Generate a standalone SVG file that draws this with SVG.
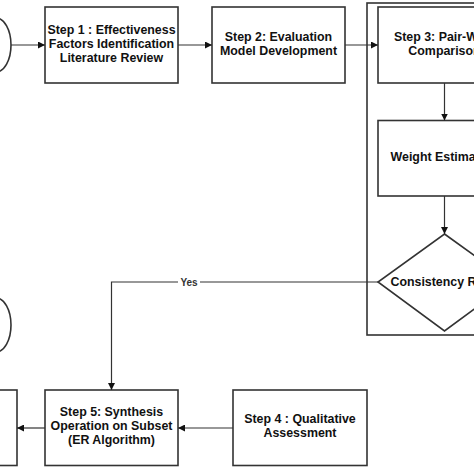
<svg xmlns="http://www.w3.org/2000/svg" width="474" height="474" viewBox="0 0 474 474">
<defs>
<style>
.box{fill:#fff;stroke:#333;stroke-width:1.6}
.cont{fill:none;stroke:#333;stroke-width:1.6}
.t{font-family:"Liberation Sans",Arial,sans-serif;font-weight:bold;font-size:12.4px;fill:#111;text-anchor:middle}
.lbl{font-family:"Liberation Sans",Arial,sans-serif;font-weight:bold;font-size:10px;fill:#333;text-anchor:middle}
.c{fill:none;stroke:#333;stroke-width:1.2}
</style>
<marker id="ah" viewBox="0 0 10 10" refX="10" refY="5" markerWidth="7" markerHeight="7" markerUnits="userSpaceOnUse" orient="auto">
<path d="M0,0 L10,5 L0,10 Z" fill="#111"/>
</marker>
</defs>
<rect width="474" height="474" fill="#fff"/>
<g id="group-ahp">
<rect class="cont" x="367" y="3" width="140" height="332"/>
</g>
<g id="start">
<ellipse class="box" cx="-4" cy="45" rx="15" ry="27"/>
</g>
<g id="end">
<ellipse class="box" cx="-4" cy="325" rx="15" ry="27"/>
</g>
<g id="step1">
<rect class="box" x="45" y="7" width="133" height="76"/>
<text class="t" x="111.5" y="34">Step 1 : Effectiveness</text>
<text class="t" x="111.5" y="48">Factors Identification</text>
<text class="t" x="111.5" y="62">Literature Review</text>
</g>
<g id="step2">
<rect class="box" x="212" y="7" width="133" height="76"/>
<text class="t" x="278.5" y="41">Step 2: Evaluation</text>
<text class="t" x="278.5" y="55">Model Development</text>
</g>
<g id="step3">
<rect class="box" x="378" y="7" width="133" height="76"/>
<text class="t" x="444.5" y="41">Step 3: Pair-Wise</text>
<text class="t" x="444.5" y="55">Comparison</text>
</g>
<g id="weight">
<rect class="box" x="378" y="120.5" width="133" height="75.5"/>
<text class="t" x="444.5" y="161">Weight Estimation</text>
</g>
<g id="consistency">
<polygon class="box" points="444.5,234 511,282 444.5,331 378,282"/>
<text class="t" x="444.5" y="286">Consistency Ratio</text>
</g>
<g id="step4">
<rect class="box" x="233" y="390" width="134" height="75.5"/>
<text class="t" x="300" y="423">Step 4 : Qualitative</text>
<text class="t" x="300" y="437">Assessment</text>
</g>
<g id="step5">
<rect class="box" x="45" y="390" width="133" height="75.5"/>
<text class="t" x="111.5" y="416">Step 5: Synthesis</text>
<text class="t" x="111.5" y="430">Operation on Subset</text>
<text class="t" x="111.5" y="444">(ER Algorithm)</text>
</g>
<g id="result">
<rect class="box" x="-20" y="390" width="37" height="75.5"/>
</g>
<g id="connectors">
<line class="c" x1="11" y1="45" x2="45" y2="45" marker-end="url(#ah)"/>
<line class="c" x1="178" y1="45" x2="212" y2="45" marker-end="url(#ah)"/>
<line class="c" x1="345" y1="45" x2="378" y2="45" marker-end="url(#ah)"/>
<line class="c" x1="444.5" y1="83" x2="444.5" y2="120.5" marker-end="url(#ah)"/>
<line class="c" x1="444.5" y1="196" x2="444.5" y2="234" marker-end="url(#ah)"/>
<polyline class="c" points="378,282 111.5,282 111.5,390" marker-end="url(#ah)"/>
<rect x="178" y="276" width="22" height="12" fill="#fff"/>
<text class="lbl" x="189" y="285.5">Yes</text>
<line class="c" x1="233" y1="428" x2="178" y2="428" marker-end="url(#ah)"/>
<line class="c" x1="45" y1="428" x2="17" y2="428" marker-end="url(#ah)"/>
</g>
</svg>
